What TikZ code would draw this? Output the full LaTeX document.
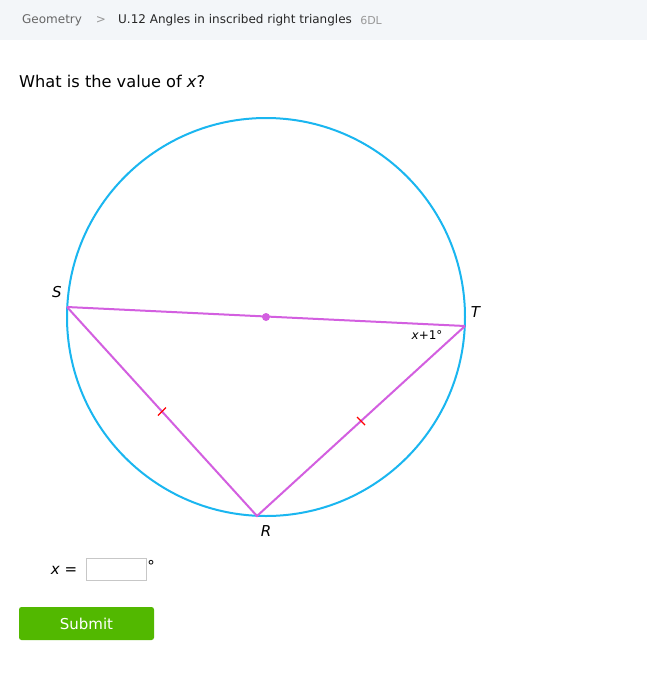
\documentclass[tikz,border=0pt]{standalone}
\usepackage{fontspec}
\usetikzlibrary{calc}
\setmainfont{DejaVu Sans}
\definecolor{hdrbg}{HTML}{F3F6F9}
\definecolor{hdrgray}{HTML}{666666}
\definecolor{hdrlight}{HTML}{999999}
\definecolor{ringblue}{HTML}{1AB6F0}
\definecolor{segpink}{HTML}{D35FE0}
\definecolor{btngreen}{HTML}{52B800}
\tikzset{
  lbl/.style={inner sep=0pt, font=\fontsize{15}{17}\selectfont},
  seg/.style={draw=segpink, line width=2pt},
  tick/.style={draw=red, line width=1.4pt}
}
\begin{document}
\begin{tikzpicture}[x=1pt, y=-1pt]
\useasboundingbox (0,0) rectangle (647,686);
\fill [white] (0,0) rectangle (647,686);
\fill [hdrbg] (0,0) rectangle (647,40);
\node (crumb1) at (22,20) [anchor=west, inner sep=0pt, text=hdrgray, font=\fontsize{12}{14}\selectfont] {Geometry};
\node (crumbsep) at (101,20) [inner sep=0pt, text=hdrlight, font=\fontsize{12}{14}\selectfont] {>};
\node (crumb2) at (118,20) [anchor=west, inner sep=0pt, text=black!85, font=\fontsize{12}{14}\selectfont] {U.12 Angles in inscribed right triangles};
\node (crumb3) at (crumb2.east) [anchor=west, xshift=8pt, inner sep=0pt, text=hdrlight, font=\fontsize{11}{13}\selectfont] {6DL};
\node (question) at (19,81) [anchor=west, inner sep=0pt, font=\fontsize{16.2}{19}\selectfont] {What is the value of \textit{x}?};
% circle and triangle
\coordinate (O) at (266,317);
\coordinate (S) at (67,307);
\coordinate (T) at (465,326);
\coordinate (R) at (257,516);
\draw [ringblue, line width=2pt] (O) circle (199);
\draw [seg] (S) -- (T);
\draw [seg] (S) -- (R) -- (T);
\fill [segpink] (O) circle (4);
\draw [tick] ($(S)!0.5!(R)+(-4,4)$) -- ($(S)!0.5!(R)+(4,-4)$);
\draw [tick] ($(T)!0.5!(R)+(-4,-4)$) -- ($(T)!0.5!(R)+(4,4)$);
\node (labS) at (57,292) [lbl] {\textit{S}};
\node (labT) at (476,312) [lbl] {\textit{T}};
\node (labR) at (266,531) [lbl] {\textit{R}};
\node (angT) at (427,335) [inner sep=0pt, font=\fontsize{12}{14}\selectfont] {\textit{x}+1°};
% answer line
\node (xeq) at (64,570) [lbl] {\textit{x} =};
\draw [black!22, line width=1pt] (86,558) rectangle (146,580);
\node (degsign) at (151,566) [lbl] {°};
\fill [btngreen, rounded corners=2.5pt] (19,607) rectangle (154,640);
\node (submit) at (86.5,623.5) [inner sep=0pt, text=white, font=\fontsize{15}{17}\selectfont] {Submit};
\end{tikzpicture}
\end{document}
